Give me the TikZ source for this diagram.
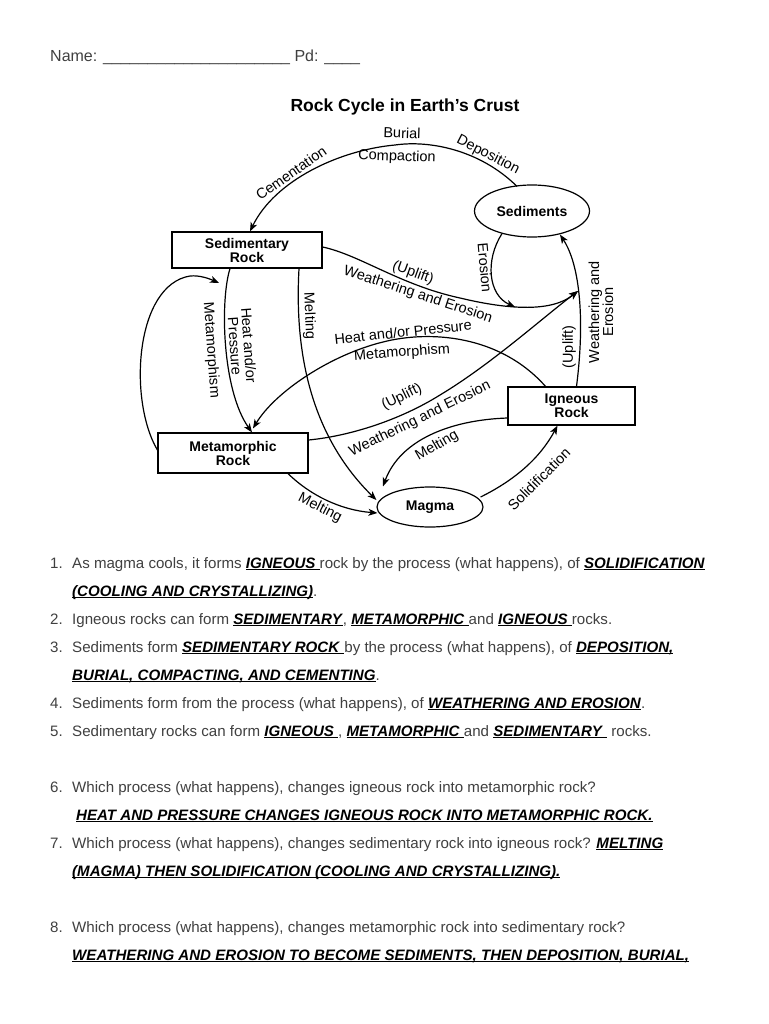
\documentclass[tikz,border=0pt]{standalone}
\usepackage{fontspec}
\setmainfont{Liberation Sans}
\usetikzlibrary{arrows.meta,shapes.geometric,calc}
\definecolor{txt}{rgb}{0.25,0.25,0.25}
\newcommand\ansx[1]{{\color{black}\underline{\smash{\textbf{\textit{#1}}}}}}
\begin{document}
\begin{tikzpicture}[x=1pt,y=-1pt,
  rockbox/.style={draw, line width=1.2pt, rectangle, align=center, inner sep=0pt,
    font=\bfseries\fontsize{14}{14}\selectfont},
  rockell/.style={draw, line width=1.2pt, ellipse, align=center, inner sep=0pt,
    font=\bfseries\fontsize{14}{14}\selectfont},
  flow/.style={line width=1.2pt, -{Stealth[length=9pt,width=7pt,inset=2.5pt]}},
  lbl/.style={inner sep=0pt, font=\fontsize{14.5}{14}\selectfont, align=center},
  qn/.style={anchor=base west, inner sep=0pt, text=txt, font=\fontsize{15.1}{16}\selectfont},
]
\useasboundingbox (0,0) rectangle (768,1024);
\fill[white] (0,0) rectangle (768,1024);

% header
\node[qn, font=\fontsize{16}{18}\selectfont] (namel) at (50,62) {Name: \_\_\_\_\_\_\_\_\_\_\_\_\_\_\_\_\_\_\_\_\_\ Pd: \_\_\_\_};
\node[anchor=base, inner sep=0pt, font=\bfseries\fontsize{17.5}{18}\selectfont] (title) at (405,112) {Rock Cycle in Earth’s Crust};

% rock nodes
\node[rockbox, minimum width=150pt, minimum height=36pt] (sedrock) at (247,250) {Sedimentary\\Rock};
\node[rockell, minimum width=115pt, minimum height=52pt] (sediments) at (532,211) {Sediments};
\node[rockbox, minimum width=150pt, minimum height=40pt] (metrock) at (233,453) {Metamorphic\\Rock};
\node[rockbox, minimum width=127pt, minimum height=38pt] (ignrock) at (571.5,406) {Igneous\\Rock};
\node[rockell, minimum width=106pt, minimum height=40pt] (magma) at (430,507) {Magma};

% free ends
\coordinate (wjoin) at (578,291);
\coordinate (erosend) at (515,307);
\coordinate (sedarcend) at (219,283);

% Sediments -> Sedimentary Rock
\draw[flow] ($(sediments.north)+(-15,2)$) .. controls (480,150) and (430,140) .. (395,145)
  .. controls (340,150) and (275,180) .. ($(sedrock.north)+(3,0)$);
\node[lbl, rotate=35] (cem) at (291,173) {Cementation};
\node[lbl, rotate=-2] (bur) at (402,133) {Burial};
\node[lbl, rotate=-2] (comp) at (397,157) {Compaction};
\node[lbl, rotate=-27] (dep) at (488,155) {Deposition};

% Sediments -> erosion
\draw[flow] ($(sediments.south)+(-30,-4)$) .. controls (485,260) and (488,295) .. (erosend);
\node[lbl, rotate=-85] (ero) at (485,268) {Erosion};

% Sedimentary rock -> weathering -> join
\draw[flow] ($(sedrock.east)+(0,-3)$) .. controls (360,255) and (400,285) .. (460,298)
  .. controls (510,310) and (552,312) .. (wjoin);
\node[lbl, rotate=-20] (up1) at (413,273) {(Uplift)};
\node[lbl, rotate=-18] (we1) at (418,295) {Weathering and Erosion};

% Igneous -> Sediments
\draw[flow] ($(ignrock.north)+(5,0)$) .. controls (585,320) and (580,265) .. ($(sediments.south)+(28,-3)$);
\node[lbl, rotate=90] (up2) at (569,347) {(Uplift)};
\node[lbl, rotate=90] (we2) at (601,312) {Weathering and\\Erosion};

% Sedimentary -> Metamorphic (heat)
\draw[flow] ($(sedrock.south)+(-17,0)$) .. controls (220,300) and (222,390) .. ($(metrock.north)+(19,0)$);
\node[lbl, rotate=-86] (meta1) at (211,350) {Metamorphism};
\node[lbl, rotate=-86] (heat1) at (242,346) {Heat and/or\\Pressure};

% Metamorphic -> Sedimentary (left arc)
\draw[flow] ($(metrock.west)+(0,-3)$) .. controls (128,400) and (135,285) .. (190,276)
  .. controls (200,275) and (210,279) .. (sedarcend);

% Sedimentary -> Magma (melting)
\draw[flow] ($(sedrock.south)+(52,0)$) .. controls (295,340) and (305,430) .. ($(magma.west)+(0,-7)$);
\node[lbl, rotate=-88] (melt1) at (309,316) {Melting};

% Igneous -> Metamorphic (heat)
\draw[flow] ($(ignrock.north)+(-26,0)$) .. controls (500,335) and (430,330) .. (383,342)
  .. controls (330,355) and (275,392) .. ($(metrock.north)+(20,-4)$);
\node[lbl, rotate=6] (heat2) at (403,332) {Heat and/or Pressure};
\node[lbl, rotate=4] (meta2) at (402,353) {Metamorphism};

% Metamorphic -> weathering -> join
\draw[flow] ($(metrock.east)+(0,-13)$) .. controls (350,436) and (400,420) .. (440,395)
  .. controls (490,365) and (540,320) .. (wjoin);
\node[lbl, rotate=26] (up3) at (402,397) {(Uplift)};
\node[lbl, rotate=26] (we3) at (420,419) {Weathering and Erosion};

% Igneous -> Magma (melting)
\draw[flow] ($(ignrock.west)+(0,12)$) .. controls (450,420) and (400,440) .. ($(magma.north)+(-47,0)$);
\node[lbl, rotate=30] (melt2) at (437,446) {Melting};

% Magma -> Igneous
\draw[flow] ($(magma.east)+(-3,-10)$) .. controls (515,480) and (540,458) .. ($(ignrock.south)+(-14,0)$);
\node[lbl, rotate=45] (sol) at (539,479) {Solidification};

% Metamorphic -> Magma (melting)
\draw[flow] ($(metrock.south)+(55,0)$) .. controls (310,495) and (340,510) .. ($(magma.west)+(1,6)$);
\node[lbl, rotate=-27] (melt3) at (320,508) {Melting};

% questions
\node[qn] (n1) at (50,568) {1.};
\node[qn] (q1) at (72,568) {As magma cools, it forms \ansx{IGNEOUS }rock by the process (what happens), of \ansx{SOLIDIFICATION}};
\node[qn] (q1b) at (72,596) {\ansx{(COOLING AND CRYSTALLIZING)}.};
\node[qn] (n2) at (50,624) {2.};
\node[qn] (q2) at (72,624) {Igneous rocks can form \ansx{SEDIMENTARY}, \ansx{METAMORPHIC }and \ansx{IGNEOUS }rocks.};
\node[qn] (n3) at (50,652) {3.};
\node[qn] (q3) at (72,652) {Sediments form \ansx{SEDIMENTARY ROCK }by the process (what happens), of \ansx{DEPOSITION,}};
\node[qn] (q3b) at (72,680) {\ansx{BURIAL, COMPACTING, AND CEMENTING}.};
\node[qn] (n4) at (50,708) {4.};
\node[qn] (q4) at (72,708) {Sediments form from the process (what happens), of \ansx{WEATHERING AND EROSION}.};
\node[qn] (n5) at (50,736) {5.};
\node[qn] (q5) at (72,736) {Sedimentary rocks can form \ansx{IGNEOUS }, \ansx{METAMORPHIC }and \ansx{SEDIMENTARY\ } rocks.};
\node[qn] (n6) at (50,792) {6.};
\node[qn] (q6) at (72,792) {Which process (what happens), changes igneous rock into metamorphic rock?};
\node[qn] (q6b) at (76,820) {\ansx{HEAT AND PRESSURE CHANGES IGNEOUS ROCK INTO METAMORPHIC ROCK.}};
\node[qn] (n7) at (50,848) {7.};
\node[qn] (q7) at (72,848) {Which process (what happens), changes sedimentary rock into igneous rock? \ansx{MELTING}};
\node[qn] (q7b) at (72,876) {\ansx{(MAGMA) THEN SOLIDIFICATION (COOLING AND CRYSTALLIZING).}};
\node[qn] (n8) at (50,932) {8.};
\node[qn] (q8) at (72,932) {Which process (what happens), changes metamorphic rock into sedimentary rock?};
\node[qn] (q8b) at (72,960) {\ansx{WEATHERING AND EROSION TO BECOME SEDIMENTS, THEN DEPOSITION, BURIAL,}};
\end{tikzpicture}
\end{document}
